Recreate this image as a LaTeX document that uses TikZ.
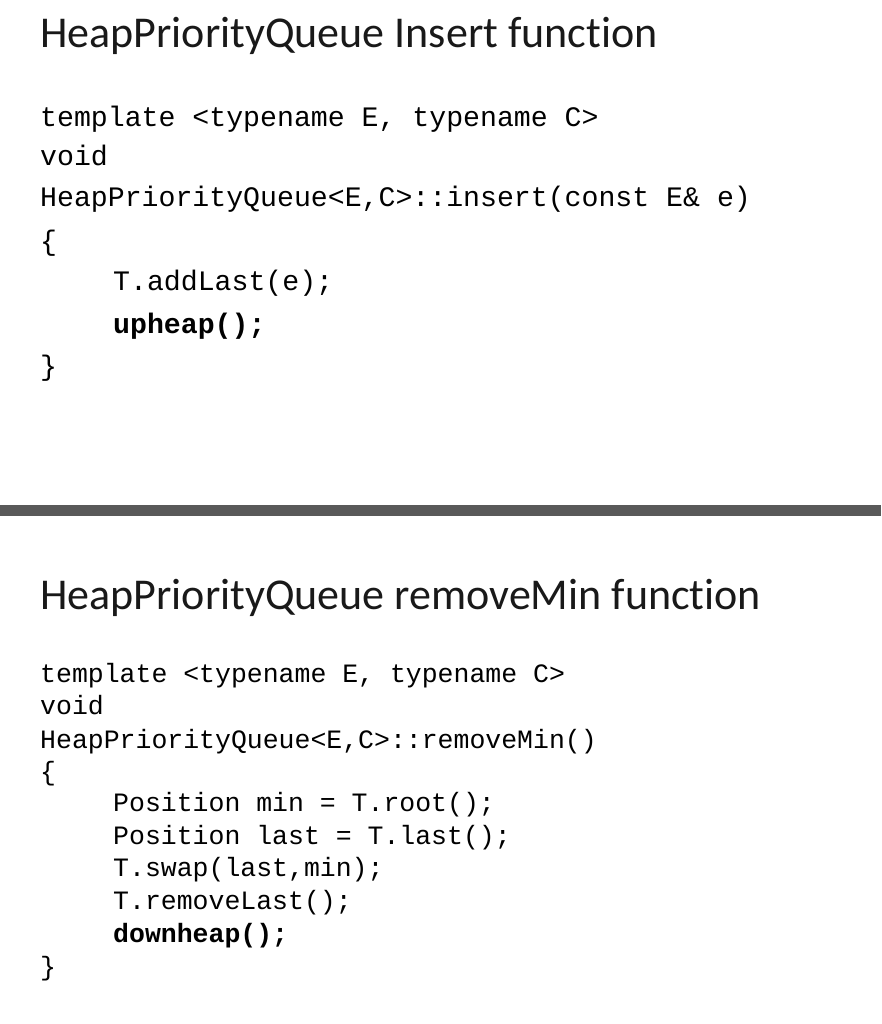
\documentclass[tikz,border=0pt]{standalone}
\usepackage{fontspec}
\setmainfont[Ligatures={NoCommon}]{Carlito}
\newfontfamily\codefont{Liberation Mono}
\begin{document}
\begin{tikzpicture}[x=1pt,y=-1pt,
  ttl/.style={anchor=base west,inner sep=0pt,font=\fontsize{44}{46}\selectfont,text=black!90},
  codeA/.style={anchor=base west,inner sep=0pt,font=\codefont\fontsize{28.2}{30}\selectfont},
  codeB/.style={anchor=base west,inner sep=0pt,font=\codefont\fontsize{26.5}{28}\selectfont}]
\useasboundingbox[fill=white] (0,0) rectangle (881,1024);
\fill[black!65] (0,505) rectangle (881,516);
\node[ttl] (t1) at (40,48) {HeapPriorityQueue Insert function};
\node[codeA] (a1) at (40,127) {template <typename E, typename C>};
\node[codeA] (a2) at (40,166) {void};
\node[codeA] (a3) at (40,207) {HeapPriorityQueue<E,C>::insert(const E\& e)};
\node[codeA] (a4) at (40,250) {\{};
\node[codeA] (a5) at (113,290) {T.addLast(e);};
\node[codeA] (a6) at (113,333) {\textbf{upheap();}};
\node[codeA] (a7) at (40,375) {\}};
\node[ttl] (t2) at (40,609) {HeapPriorityQueue removeMin function};
\node[codeB] (b1) at (40,682) {template <typename E, typename C>};
\node[codeB] (b2) at (40,714) {void};
\node[codeB] (b3) at (40,748) {HeapPriorityQueue<E,C>::removeMin()};
\node[codeB] (b4) at (40,780) {\{};
\node[codeB] (b5) at (113,811) {Position min = T.root();};
\node[codeB] (b6) at (113,844) {Position last = T.last();};
\node[codeB] (b7) at (113,876) {T.swap(last,min);};
\node[codeB] (b8) at (113,909) {T.removeLast();};
\node[codeB] (b9) at (113,942) {\textbf{downheap();}};
\node[codeB] (b10) at (40,975) {\}};
\end{tikzpicture}
\end{document}
